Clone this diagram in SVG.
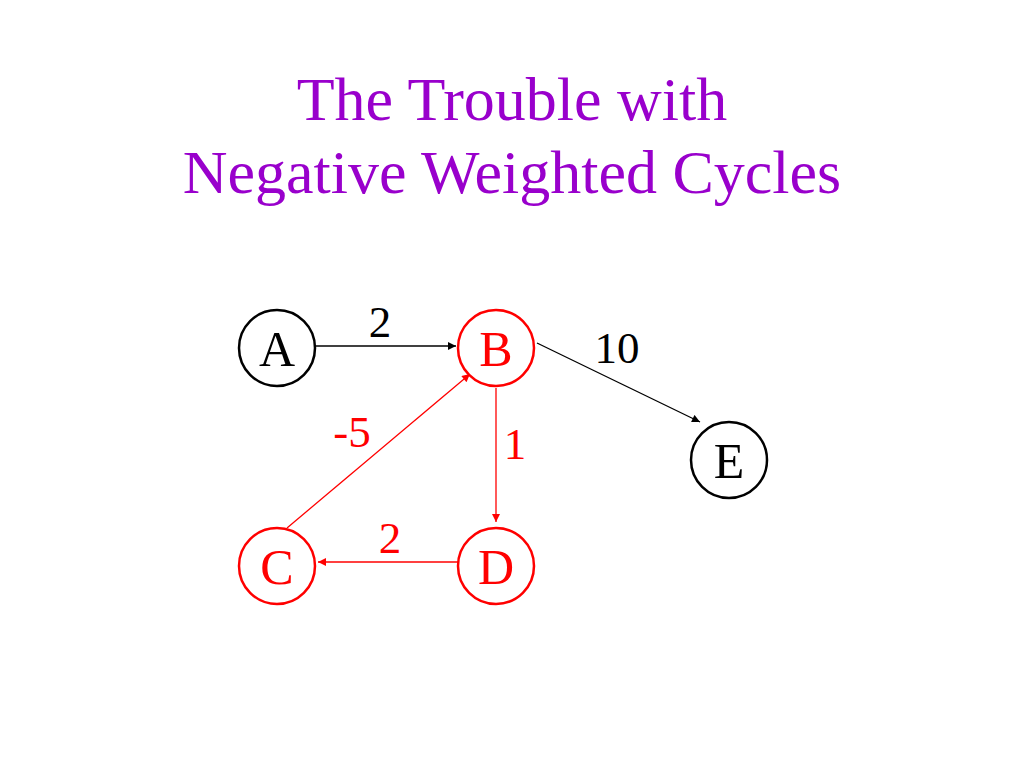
<svg xmlns="http://www.w3.org/2000/svg" width="1024" height="768" viewBox="0 0 1024 768">
<style>
text{font-family:"Liberation Serif","Times New Roman",serif}
.t{fill:#9900CC;font-size:62px;text-anchor:middle}
.n{font-size:50px;text-anchor:middle}
.l{font-size:45px;text-anchor:middle}
.k{stroke:#000;fill:#fff;stroke-width:2.5}
.r{stroke:#f00;fill:#fff;stroke-width:2.5}
</style>
<defs>
<marker id="ak" viewBox="0 0 10 10" refX="10" refY="5" markerWidth="10" markerHeight="8" markerUnits="userSpaceOnUse" orient="auto"><path d="M0,0L10,5L0,10z" fill="#000"/></marker>
<marker id="ar" viewBox="0 0 10 10" refX="10" refY="5" markerWidth="10" markerHeight="8" markerUnits="userSpaceOnUse" orient="auto"><path d="M0,0L10,5L0,10z" fill="#f00"/></marker>
</defs>
<rect width="1024" height="768" fill="#fff"/>
<text class="t" x="512" y="120">The Trouble with</text>
<text class="t" x="512" y="193">Negative Weighted Cycles</text>
<g id="connectors" stroke-width="1.3">
<line x1="315" y1="346" x2="456" y2="346" stroke="#000" marker-end="url(#ak)"/>
<line x1="537" y1="343" x2="700" y2="422" stroke="#000" marker-end="url(#ak)"/>
<line x1="496" y1="388" x2="496" y2="522" stroke="#f00" marker-end="url(#ar)"/>
<line x1="458" y1="562" x2="318" y2="562" stroke="#f00" marker-end="url(#ar)"/>
<line x1="287" y1="528" x2="470" y2="374" stroke="#f00" marker-end="url(#ar)"/>
<text class="l" x="380" y="337">2</text>
<text class="l" x="617" y="363">10</text>
<text class="l" x="352" y="447" fill="#f00">-5</text>
<text class="l" x="515" y="459" fill="#f00">1</text>
<text class="l" x="390" y="553" fill="#f00">2</text>
</g>
<g id="A"><circle class="k" cx="277" cy="348" r="38"/><text class="n" x="277" y="366">A</text></g>
<g id="B"><circle class="r" cx="496" cy="348" r="38"/><text class="n" x="496" y="366" fill="#f00">B</text></g>
<g id="E"><circle class="k" cx="729" cy="460" r="38"/><text class="n" x="729" y="478">E</text></g>
<g id="C"><circle class="r" cx="277" cy="566" r="38"/><text class="n" x="277" y="584" fill="#f00">C</text></g>
<g id="D"><circle class="r" cx="496" cy="566" r="38"/><text class="n" x="496" y="584" fill="#f00">D</text></g>
</svg>
